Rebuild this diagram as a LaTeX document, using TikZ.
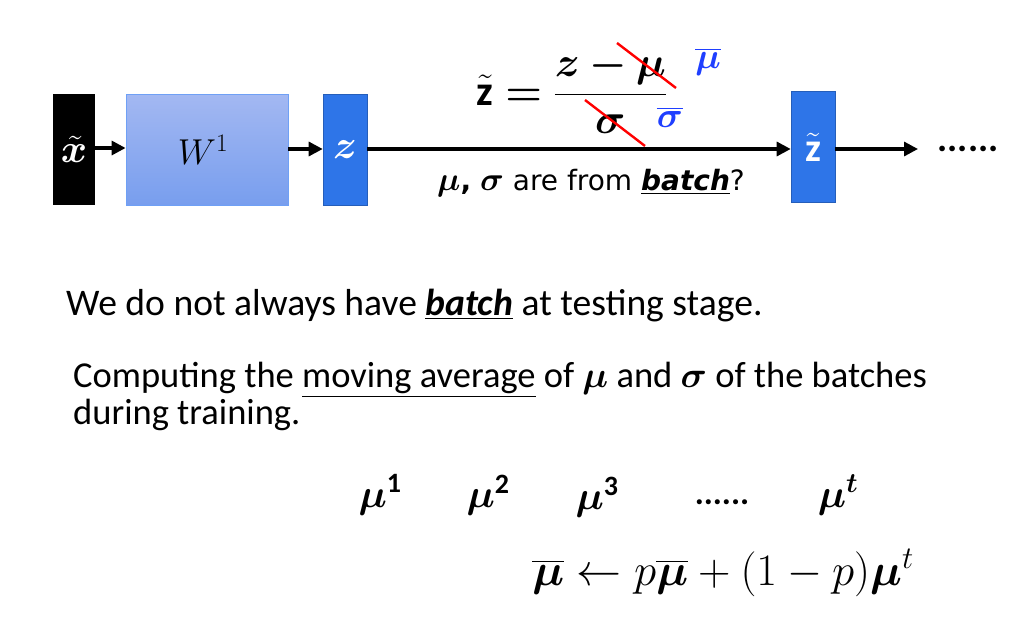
\RequirePackage{fix-cm}
\documentclass[tikz,border=0pt]{standalone}
\usepackage{fontspec}
\setmainfont{Carlito}
\newfontfamily\dejavu{DejaVu Sans}
\usepackage{amsmath,bm}
\usetikzlibrary{arrows.meta}
\definecolor{zblue}{HTML}{2E75E8}
\definecolor{wtop}{HTML}{A3B8F2}
\definecolor{wbot}{HTML}{789EEE}
\definecolor{wedge}{HTML}{6FA0F5}
\definecolor{barblue}{HTML}{1F3FFF}
\tikzset{
  flow/.style={line width=3.2pt,-{Triangle[length=14pt,width=14pt]}},
  zbox/.style={fill=zblue,draw=zblue!80!black,line width=0.6pt,minimum width=44pt,minimum height=111pt,inner sep=0pt,text=white},
  strike/.style={red,line width=2.4pt},
  txt/.style={inner sep=0pt,anchor=base west}
}
\begin{document}
\begin{tikzpicture}[x=1pt,y=-1pt]
\useasboundingbox[fill=white] (0,0) rectangle (1036,618);
% boxes
\node[fill=black,minimum width=42pt,minimum height=111pt,inner sep=0pt,text=white] (x) at (74,149.5) {\fontsize{40}{40}\selectfont$\tilde{\bm{x}}$};
\node[top color=wtop,bottom color=wbot,draw=wedge,line width=0.8pt,minimum width=162pt,minimum height=111pt,inner sep=0pt,font=\fontsize{36}{36}\selectfont] (w) at (207,149.5) {\hspace*{-8pt}$W^1$};
\node[zbox] (z) at (345,149.5) {\fontsize{40}{40}\selectfont$\bm{z}$};
\node[zbox] (zt) at (813,147) {\fontsize{40}{40}\selectfont$\tilde{\mathbf{z}}$};
\coordinate (end) at (918,149);
\node[inner sep=0pt] (dots) at (968,149) {\fontsize{38}{38}\selectfont\textbf{......}};
% arrows
\draw[flow] (x.east |- 0,148) -- (w.west |- 0,148);
\draw[flow] (w.east |- 0,149) -- (z.west |- 0,149);
\draw[flow] (z.east |- 0,149) -- (zt.west |- 0,149);
\draw[flow] (zt.east |- 0,149) -- (end);
% formula
\node[inner sep=0pt] (form) at (572,92) {\fontsize{42}{42}\selectfont$\tilde{\mathbf{z}}\boldsymbol{=}\dfrac{\bm{z}\boldsymbol{-}\bm{\mu}}{\bm{\sigma}}$};
\coordinate (s1a) at (617,43); \coordinate (s1b) at (676,88);
\coordinate (s2a) at (585,100); \coordinate (s2b) at (645,146);
\draw[strike] (s1a) -- (s1b);
\draw[strike] (s2a) -- (s2b);
\node[inner sep=0pt,text=barblue] (mubar) at (708,62) {\fontsize{36}{36}\selectfont$\overline{\bm{\mu}}$};
\node[inner sep=0pt,text=barblue] (sigbar) at (670,117) {\fontsize{36}{36}\selectfont$\overline{\bm{\sigma}}$};
\node[txt] (from) at (437,190) {\dejavu\fontsize{28}{28}\selectfont{\fontsize{33}{33}\selectfont$\bm{\mu}$}\textbf{,} {\fontsize{33}{33}\selectfont$\bm{\sigma}$} are from \underline{\textbf{\textit{batch}}}?};
% text
\node[txt] (l1) at (66,315) {\fontsize{37.6}{37.6}\selectfont We do not always have \underline{\textbf{\textit{batch}}} at testing stage.};
\node[txt,align=left,font=\fontsize{36.5}{37}\selectfont] (l2) at (73,424) {Computing the \underline{moving average} of $\bm{\mu}$ and $\bm{\sigma}$ of the batches\\during training.};
% sequence
\node[inner sep=0pt] (m1) at (380,495) {\fontsize{40}{40}\selectfont$\bm{\mu}^{\mathbf{1}}$};
\node[inner sep=0pt] (m2) at (488,495) {\fontsize{40}{40}\selectfont$\bm{\mu}^{\mathbf{2}}$};
\node[inner sep=0pt] (m3) at (597,497) {\fontsize{40}{40}\selectfont$\bm{\mu}^{\mathbf{3}}$};
\node[inner sep=0pt] (md) at (722,502) {\fontsize{34}{34}\selectfont\textbf{......}};
\node[inner sep=0pt] (mt) at (838,495) {\fontsize{40}{40}\selectfont$\bm{\mu}^{\bm{t}}$};
\node[inner sep=0pt] (upd) at (723,573) {\fontsize{45}{45}\selectfont$\overline{\bm{\mu}}\leftarrow p\overline{\bm{\mu}}+(1-p)\bm{\mu}^{t}$};
\end{tikzpicture}
\end{document}
